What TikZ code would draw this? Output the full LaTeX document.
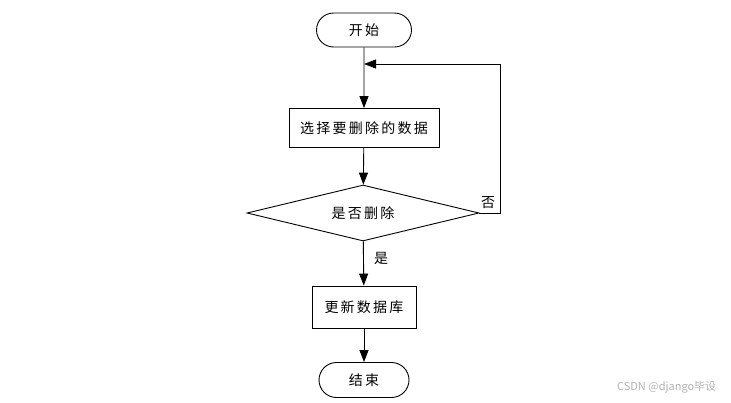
\documentclass[tikz,border=0pt]{standalone}
\usepackage{fontspec}
\usepackage{tikz}
\usetikzlibrary{shapes.misc,shapes.geometric,arrows.meta}
\setmainfont{Noto Sans CJK SC}[LetterSpace=16]
\newfontfamily\markfont{Noto Sans CJK SC}

\tikzset{
    termbox/.style={draw, rounded rectangle, minimum width=95pt, minimum height=34pt, inner sep=0pt},
    procbox/.style={draw, rectangle, inner sep=0pt},
    decbox/.style={draw, diamond, aspect=4.14, inner sep=0pt, minimum width=232pt, minimum height=56pt},
    flow/.style={-{Triangle[length=12pt,width=9pt]}},
}

\begin{document}
\begin{tikzpicture}[x=1pt,y=-1pt,line width=0.9pt,font=\fontsize{14}{16}\selectfont]
    \useasboundingbox (0,0) rectangle (731,402);

    \node[termbox] (start) at (364,30) {开始};
    \node[procbox, minimum width=150pt, minimum height=39pt] (pick) at (364,128) {选择要删除的数据};
    \node[decbox] (ask) at (363,213) {是否删除};
    \node[procbox, minimum width=104pt, minimum height=42pt] (update) at (364,307) {更新数据库};
    \node[termbox, minimum width=90pt, minimum height=35pt] (stop) at (364,380) {结束};
    \coordinate (back) at (364,64);

    \draw[flow] (start) -- (pick);
    \draw[flow] (pick) -- (ask);
    \draw[flow] (ask) -- (update);
    \draw[flow] (update) -- (stop);
    \draw[flow] (ask.east) -- ++(21,0) |- (back); % no, loop back

    \node (no) at (488,203) {否};
    \node (yes) at (381,258) {是};

    \node[anchor=east, text=gray!60, font=\markfont\fontsize{11}{12}\selectfont] (mark) at (720,387) {CSDN @django毕设};
\end{tikzpicture}
\end{document}
